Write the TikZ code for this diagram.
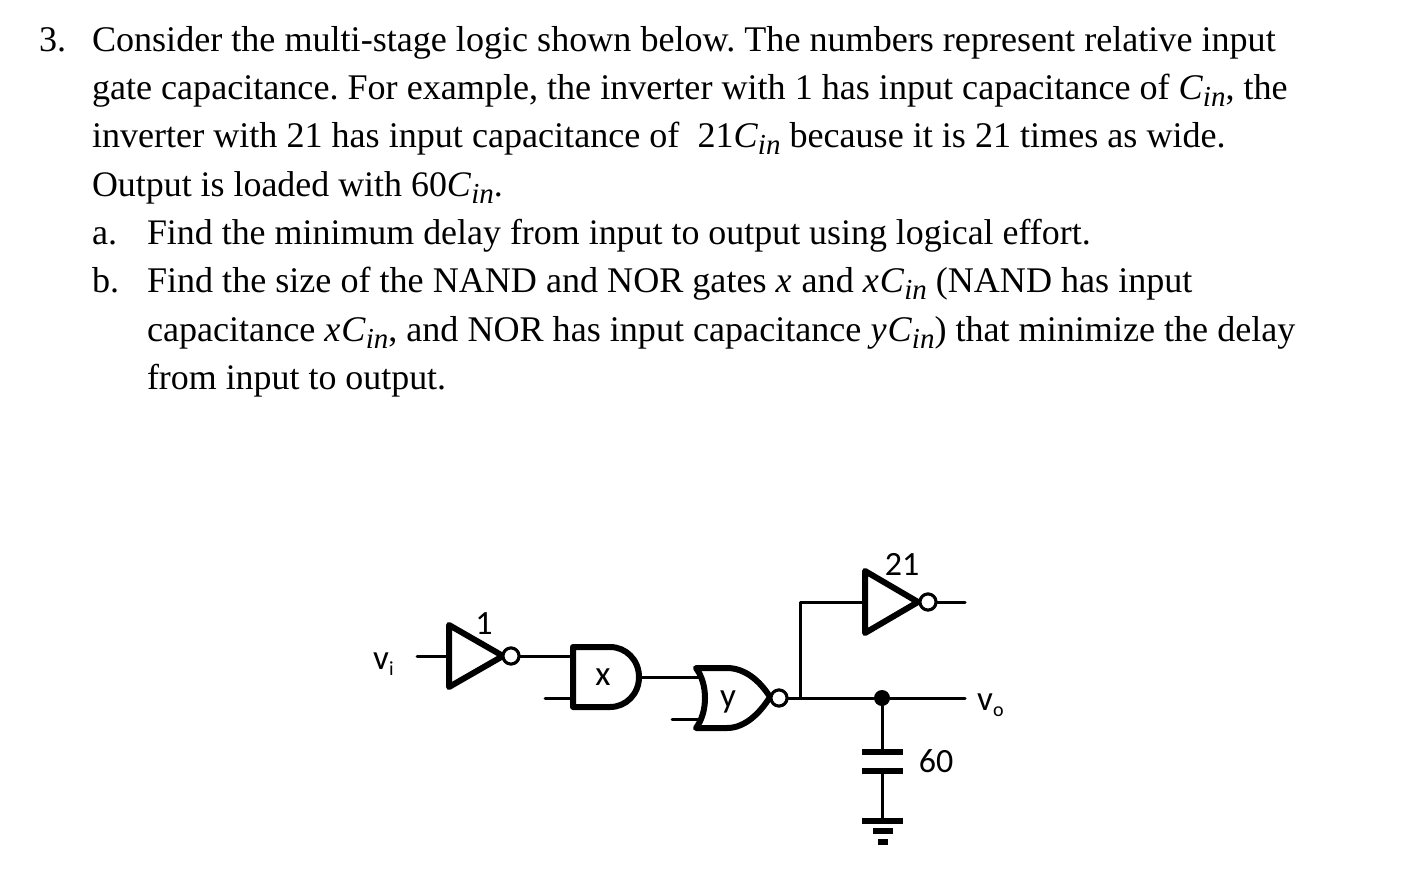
\documentclass[tikz,border=0pt]{standalone}
\usepackage{fontspec}
\setmainfont{Liberation Serif}
\newfontfamily\lblfont{Carlito}
\newcommand{\Cin}{\textit{C}\raisebox{-0.2em}{\fontsize{29}{30}\selectfont\textit{in}}}
\newcommand{\vrb}[1]{\textit{#1}\hspace{1pt}}
\frenchspacing
\tikzset{
  x=1pt,y=-1pt,
  txt/.style={anchor=base west,inner sep=0pt,outer sep=0pt,font=\fontsize{36.1}{40}\selectfont},
  txtb/.style={anchor=base west,inner sep=0pt,outer sep=0pt,font=\fontsize{35.9}{40}\selectfont},
  lbl/.style={inner sep=0pt,font=\lblfont\fontsize{34}{36}\selectfont},
  sublbl/.style={inner sep=0pt,font=\lblfont\fontsize{35}{36}\selectfont},
  wire/.style={line width=3pt,line cap=round,line join=round},
  gate/.style={line width=6pt,line join=round,line cap=round},
  bubble/.style={circle,draw,line width=3pt,fill=white,minimum size=16pt,inner sep=0pt,outer sep=0pt},
  plate/.style={line width=6pt},
  dotnode/.style={circle,fill=black,minimum size=16pt,inner sep=0pt,outer sep=0pt}
}
\begin{document}
\begin{tikzpicture}
\useasboundingbox (0,0) rectangle (1420,886);
% text
\node[txt] (n3) at (39,51) {3.};
\node[txt] (l1) at (92,51) {Consider the multi-stage logic shown below. The numbers represent relative input};
\node[txt] (l2) at (92,99) {gate capacitance. For example, the inverter with 1 has input capacitance of \Cin, the};
\node[txt] (l3) at (92,147) {inverter with 21 has input capacitance of \ 21\Cin{} because it is 21 times as wide.};
\node[txtb] (l4) at (92,196) {Output is loaded with 60\Cin.};
\node[txt] (na) at (92,244) {a.};
\node[txtb] (l5) at (147,244) {Find the minimum delay from input to output using logical effort.};
\node[txt] (nb) at (92,292) {b.};
\node[txt] (l6) at (147,292) {Find the size of the NAND and NOR gates \vrb{x} and \vrb{x}\Cin{} (NAND has input};
\node[txt] (l7) at (147,341) {capacitance \vrb{x}\Cin, and NOR has input capacitance \vrb{y}\Cin) that minimize the delay};
\node[txtb] (l8) at (147,389) {from input to output.};
% coordinates
\coordinate (vin) at (417,656);
\coordinate (i1in) at (446,656);
\coordinate (nandA) at (571,656);
\coordinate (nandB) at (571,698);
\coordinate (nandBs) at (545,698);
\coordinate (nandOut) at (641,677);
\coordinate (norA) at (700,677);
\coordinate (norB) at (700,719);
\coordinate (norBs) at (672,719);
\coordinate (branch) at (800,698);
\coordinate (corner) at (800,602);
\coordinate (i2in) at (863,602);
\coordinate (i2end) at (965,602);
\coordinate (voend) at (965,698);
\coordinate (capT) at (882,752);
\coordinate (capB) at (882,771);
\coordinate (gnd) at (882,821);
% wires beneath
\node[bubble] (b1) at (511,656) {};
\node[bubble] (b2) at (779,698) {};
\node[bubble] (b3) at (928,602) {};
\node[dotnode] (dot) at (882,698) {};
\draw[wire] (vin) -- (i1in);
\draw[wire] (b1) -- (nandA);
\draw[wire] (nandBs) -- (nandB);
\draw[wire] (nandOut) -- (norA);
\draw[wire] (norBs) -- (norB);
\draw[wire] (b2) -- (branch) -- (dot) -- (voend);
\draw[wire] (branch) -- (corner) -- (i2in);
\draw[wire] (b3) -- (i2end);
\draw[wire] (dot) -- (capT);
\draw[wire] (capB) -- (gnd);
% gates
\draw[gate] (449,625) -- (503,656) -- (449,687) -- cycle;
\draw[gate] (573,647) -- (610,647) .. controls (626,647) and (639,660) .. (639,677)
  .. controls (639,694) and (626,707) .. (610,707) -- (573,707) -- cycle;
\draw[gate] (696,668) -- (727,668) .. controls (745,668) and (760,681) .. (770,697)
  .. controls (760,713) and (745,728) .. (727,728) -- (696,728)
  .. controls (708,712) and (708,684) .. (696,668) -- cycle;
\draw[gate] (865,571) -- (918,602) -- (865,633) -- cycle;
\node[bubble] at (b1) {};
\node[bubble] at (b2) {};
\node[bubble] at (b3) {};
% capacitor and ground
\draw[plate] (862,752) -- (903,752);
\draw[plate] (862,771) -- (903,771);
\draw[plate] (862,821) -- (903,821);
\draw[plate] (873,831) -- (893,831);
\draw[plate] (878,842) -- (888,842);
% labels
\node[lbl] (one) at (484,624) {1};
\node[lbl] (tw) at (902,564) {21};
\node[lbl] (six) at (936,761) {60};
\node[sublbl] (xl) at (603,677) {x};
\node[sublbl] (yl) at (728,702) {y};
\node[sublbl,anchor=base west] (vi) at (373,669) {v\raisebox{-0.18em}{\fontsize{20}{20}\selectfont i}};
\node[sublbl,anchor=base west] (vo) at (977,710) {v\raisebox{-0.18em}{\fontsize{20}{20}\selectfont o}};
\end{tikzpicture}
\end{document}
